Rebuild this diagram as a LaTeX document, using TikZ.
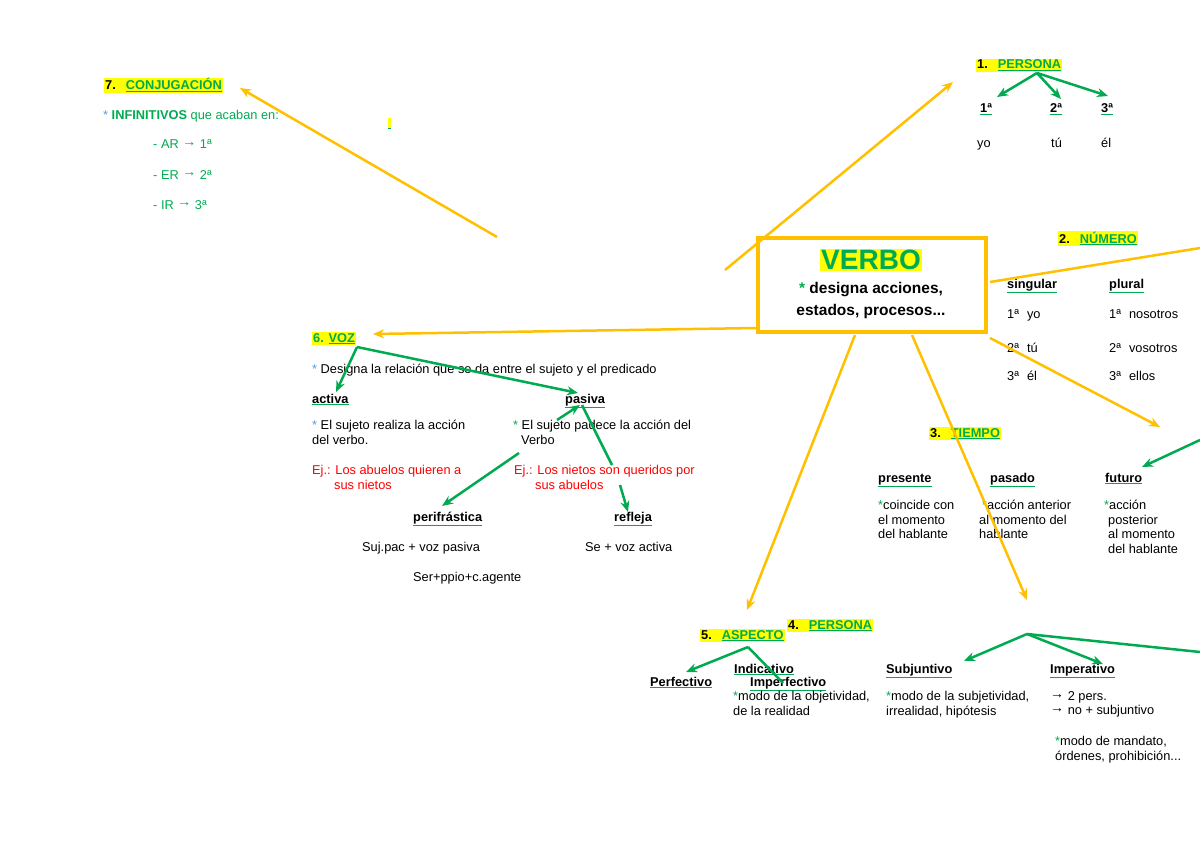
\documentclass[tikz,border=0pt]{standalone}
\usepackage{fontspec}
\setmainfont{Liberation Sans}
\usetikzlibrary{arrows.meta}
\definecolor{gr}{RGB}{0,170,80}
\definecolor{og}{RGB}{255,192,0}
\definecolor{yl}{RGB}{255,255,0}
\definecolor{bl}{RGB}{91,155,213}
\newcommand{\gul}[1]{{\color{gr}\underline{\color{black}#1}}}
\newcommand{\ttl}[2]{\textbf{#1}\hspace{10pt}{\color{gr}\underline{\textbf{#2}}}}
\newcommand{\ar}{\raisebox{2pt}{\fontsize{14}{14}\selectfont →}}
\tikzset{
 t/.style={anchor=base west,inner sep=0pt,font=\fontsize{12.8}{14.6}\selectfont,align=left},
 m/.style={t,anchor=north west},
 hd/.style={t,fill=yl,inner sep=1pt},
 oa/.style={draw=og,line width=2.5pt,-{Stealth[length=11pt,width=9pt]}},
 ol/.style={draw=og,line width=2.5pt},
 ga/.style={draw=gr,line width=2.5pt,-{Stealth[length=11pt,width=9pt]}},
 gl/.style={draw=gr,line width=2.5pt},
}
\begin{document}
\begin{tikzpicture}[x=1pt,y=-1pt]
\useasboundingbox (0,0) rectangle (1200,848);
% 7
\node[hd] (c7) at (104,90) {\ttl{7.}{CONJUGACIÓN}};
\node[t,text=gr] (c7a) at (103,120) {{\color{bl}*} \textbf{INFINITIVOS} que acaban en:};
\node[t,text=gr] (c7b) at (153,149) {- AR \ar{} 1ª};
\node[t,text=gr] (c7c) at (153,179) {- ER \ar{} 2ª};
\node[t,text=gr] (c7d) at (153,209) {- IR \ar{} 3ª};
\node[hd,inner sep=0pt] (mk) at (388,127) {\gul{\phantom{i}}};
% 1
\node[hd] (p1) at (976,69) {\ttl{1.}{PERSONA}};
\node[t] (p1a) at (980,113) {\gul{\textbf{1ª}}};
\node[t] (p1b) at (1050,113) {\gul{\textbf{2ª}}};
\node[t] (p1c) at (1101,113) {\gul{\textbf{3ª}}};
\node[t] (y1) at (977,148) {yo};
\node[t] (y2) at (1051,148) {tú};
\node[t] (y3) at (1101,148) {él};
% 2
\node[hd] (n2) at (1058,243) {\ttl{2.}{NÚMERO}};
\node[t] (sg) at (1007,288) {\gul{\textbf{singular}}};
\node[t] (pl) at (1109,288) {\gul{\textbf{plural}}};
\node[t] (s1) at (1007,318) {1ª\hspace{8pt}yo};
\node[t] (s2) at (1007,352) {2ª\hspace{8pt}tú};
\node[t] (s3) at (1007,380) {3ª\hspace{8pt}él};
\node[t] (q1) at (1109,318) {1ª\hspace{8pt}nosotros};
\node[t] (q2) at (1109,352) {2ª\hspace{8pt}vosotros};
\node[t] (q3) at (1109,380) {3ª\hspace{8pt}ellos};
% VERBO
\draw[og,line width=4pt] (758,238) rectangle (986,332);
\node[fill=yl,inner sep=1pt,font=\fontsize{28}{30}\selectfont\bfseries,text=gr] (vb) at (871,260) {VERBO};
\node[font=\fontsize{15.5}{22}\selectfont\bfseries,align=center] (vd) at (871,300) {{\color{gr}*} designa acciones,\\estados, procesos...};
% 3
\node[hd] (t3) at (929,437) {\ttl{3.}{TIEMPO}};
\node[t] (pr) at (878,482) {\gul{\textbf{presente}}};
\node[t] (pa) at (990,482) {\gul{\textbf{pasado}}};
\node[t] (fu) at (1105,482) {\gul{\textbf{futuro}}};
\node[m] (pr2) at (878,500) {{\color{gr}*}coincide con\\el momento\\del hablante};
\node[m] (pa2) at (979,500) {\hspace{3pt}{\color{gr}*}acción anterior\\al momento del\\hablante};
\node[m] (fu2) at (1104,500) {{\color{gr}*}acción\\\hspace{4pt}posterior\\\hspace{4pt}al momento\\\hspace{4pt}del hablante};
% 4,5
\node[hd] (p4) at (787,629) {\ttl{4.}{PERSONA}};
\node[hd] (a5) at (700,639) {\ttl{5.}{ASPECTO}};
\node[t] (pf) at (650,686) {\gul{\textbf{Perfectivo}}};
\node[t] (ind) at (734,673) {\gul{\textbf{Indicativo}}};
\node[t] (ipf) at (750,686) {\gul{\textbf{Imperfectivo}}};
\node[m] (ind2) at (733,691) {{\color{gr}*}modo de la objetividad,\\de la realidad};
\node[t] (sub) at (886,673) {\gul{\textbf{Subjuntivo}}};
\node[m] (sub2) at (886,691) {{\color{gr}*}modo de la subjetividad,\\irrealidad, hipótesis};
\node[t] (imp) at (1050,673) {\gul{\textbf{Imperativo}}};
\node[m] (imp2) at (1050,691) {\ar{} 2 pers.\\\ar{} no + subjuntivo};
\node[m] (imp3) at (1055,736) {{\color{gr}*}modo de mandato,\\órdenes, prohibición...};
% 6
\node[hd] (v6) at (312,342) {\textbf{\color{gr}6. \underline{VOZ}}};
\node[t] (vd1) at (312,373) {{\color{bl}*} Designa la relación que se da entre el sujeto y el predicado};
\node[t] (ac) at (312,403) {\gul{\textbf{activa}}};
\node[t] (ps) at (565,403) {\gul{\textbf{pasiva}}};
\node[m] (ac2) at (312,420) {{\color{bl}*} El sujeto realiza la acción\\del verbo.};
\node[m] (ps2) at (513,420) {{\color{gr}*} El sujeto padece la acción del\\\hspace{8pt}Verbo};
\node[m,text=red] (e1) at (312,465) {Ej.: Los abuelos quieren a\\\hspace{22pt}sus nietos};
\node[m,text=red] (e2) at (514,465) {Ej.: Los nietos son queridos por\\\hspace{21pt}sus abuelos};
\node[t] (pe) at (413,521) {\gul{\textbf{perifrástica}}};
\node[t] (rf) at (614,521) {\gul{\textbf{refleja}}};
\node[t] (pe2) at (362,551) {Suj.pac + voz pasiva};
\node[t] (rf2) at (585,551) {Se + voz activa};
\node[t] (pe3) at (413,581) {Ser+ppio+c.agente};
% orange
\coordinate (o1) at (497,237); \coordinate (o1e) at (240,88);
\coordinate (o2) at (725,270); \coordinate (o2e) at (953,82);
\coordinate (o3) at (757,328); \coordinate (o3e) at (373,334);
\coordinate (o4) at (855,335); \coordinate (o4e) at (747,610);
\coordinate (o5) at (912,335); \coordinate (o5e) at (1027,600);
\coordinate (o6) at (990,282); \coordinate (o6e) at (1200,248);
\coordinate (o7) at (990,338); \coordinate (o7e) at (1160,427);
\draw[oa] (o1) -- (o1e);
\draw[oa] (o2) -- (o2e);
\draw[oa] (o3) -- (o3e);
\draw[oa] (o4) -- (o4e);
\draw[oa] (o5) -- (o5e);
\draw[ol] (o6) -- (o6e);
\draw[oa] (o7) -- (o7e);
% green
\coordinate (g1) at (1037,73);
\draw[ga] (g1) -- (997,97);
\draw[ga] (g1) -- (1061,99);
\draw[ga] (g1) -- (1108,96);
\coordinate (g2) at (1200,440);
\draw[ga] (g2) -- (1142,467);
\coordinate (g3) at (1027,634);
\draw[ga] (g3) -- (964,661);
\draw[ga] (g3) -- (1103,664);
\draw[gl] (g3) -- (1200,652);
\coordinate (g4) at (748,647);
\draw[ga] (g4) -- (686,672);
\draw[gl] (g4) -- (783,683);
\coordinate (g5) at (357,347);
\draw[ga] (g5) -- (336,392);
\draw[ga] (g5) -- (578,393);
\coordinate (g6) at (557,420); \coordinate (g6e) at (580,405);
\draw[ga] (g6) -- (g6e);
\draw[gl] (582,405) -- (612,465);
\draw[ga] (620,485) -- (628,512);
\draw[ga] (519,453) -- (442,506);
\end{tikzpicture}
\end{document}
